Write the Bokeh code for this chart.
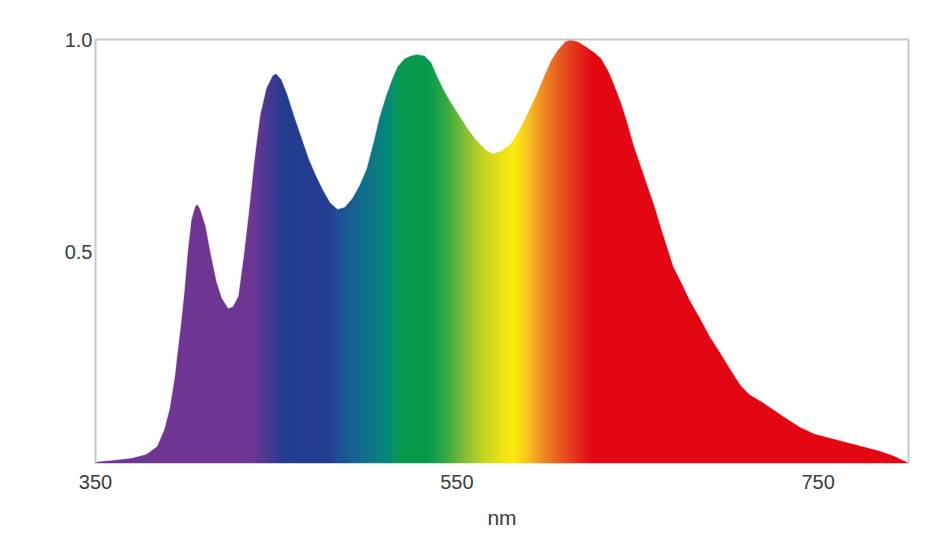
import numpy as np
from bokeh.plotting import figure
from bokeh.models import Range1d, FixedTicker, LinearAxis, NumeralTickFormatter
from bokeh.embed import file_html
from bokeh.resources import INLINE

# spectrum (wavelength in nm, relative intensity)
wavelength = [350, 360, 370, 378, 384, 388, 391, 394, 395, 397, 399, 401, 403, 405, 406.3, 408,
              411, 413.6, 417, 420, 423.5, 426, 429, 432, 435, 438, 441, 444.5, 448, 450, 453,
              456, 460, 464, 468, 472, 476, 480, 484, 488, 492, 496, 500, 504, 507, 510.5,
              514, 517, 521, 524.5, 528, 532, 536, 539, 543, 547, 552, 556, 561, 566, 570,
              575, 580, 585, 589, 594, 598, 602, 606, 610, 613, 617, 622, 626, 630, 634,
              637, 641, 644, 648, 652, 656, 659, 663, 666.5, 670, 674, 679, 685, 690, 696,
              701, 707, 712, 718, 725, 733, 740, 748, 757, 766, 775, 784, 792, 800]
intensity = [0.004, 0.008, 0.013, 0.022, 0.04, 0.08, 0.13, 0.21, 0.25, 0.32, 0.40, 0.50, 0.575, 0.605, 0.612, 0.60,
             0.56, 0.50, 0.43, 0.39, 0.366, 0.37, 0.395, 0.49, 0.60, 0.72, 0.82, 0.885, 0.915, 0.92, 0.905,
             0.873, 0.82, 0.77, 0.72, 0.68, 0.645, 0.615, 0.60, 0.605, 0.625, 0.655, 0.695, 0.76, 0.815, 0.864,
             0.905, 0.935, 0.955, 0.962, 0.965, 0.962, 0.945, 0.915, 0.88, 0.85, 0.817, 0.79, 0.762, 0.74, 0.731,
             0.738, 0.755, 0.79, 0.825, 0.87, 0.911, 0.95, 0.976, 0.995, 1.0, 0.995, 0.982, 0.97, 0.955, 0.925,
             0.895, 0.85, 0.81, 0.75, 0.70, 0.65, 0.613, 0.557, 0.51, 0.463, 0.43, 0.385, 0.34, 0.30, 0.26,
             0.225, 0.185, 0.163, 0.148, 0.128, 0.105, 0.086, 0.07, 0.06, 0.05, 0.04, 0.03, 0.018, 0.002]

# colour stops of the spectral fill
stop_nm = [350, 436, 454, 480, 484, 498, 512, 519, 534, 543, 556, 565, 576, 582, 591, 598, 607, 618, 626, 800]
stop_colors = ["#6F3592", "#6F3592", "#233C91", "#243E92", "#1E4E96", "#0F6E8C", "#07887A", "#06994C",
               "#06994C", "#2FA844", "#8EC232", "#C8D520", "#F0E314", "#FCEB0F", "#F5B820", "#EE8A22",
               "#E85A1E", "#E3261B", "#E30613", "#E30613"]

x_ticks = [350, 550, 750]
y_ticks = [0.5, 1.0]

X0, X1 = 350, 800
LABEL_COLOR = "#3c3c3c"
FRAME_COLOR = "#c8c8c8"
FONT = "Liberation Sans"

p = figure(frame_width=813, frame_height=424, output_backend="svg", toolbar_location=None,
           x_range=Range1d(X0, X1), y_range=Range1d(0, 1.0),
           min_border_left=95, min_border_top=39, min_border_right=30, min_border_bottom=63)
p.outline_line_color = None
p.grid.visible = False
p.background_fill_color = "white"
p.border_fill_color = "white"

# gradient image spanning the frame
N = 1800
cols = np.linspace(X0, X1, N)
rgb = np.array([[int(c[i:i + 2], 16) for i in (1, 3, 5)] for c in stop_colors], dtype=float)
img = np.zeros((1, N), dtype=np.uint32)
view = img.view(dtype=np.uint8).reshape((1, N, 4))
for k in range(3):
    view[0, :, k] = np.round(np.interp(cols, stop_nm, rgb[:, k])).astype(np.uint8)
view[0, :, 3] = 255
p.image_rgba(image=[img], x=X0, y=0, dw=X1 - X0, dh=1.0)

# white mask above the spectrum curve
mask_x = list(wavelength) + [X1, X0]
mask_y = list(intensity) + [1.2, 1.2]
p.patch(mask_x, mask_y, fill_color="white", line_color="white", line_width=0.5)

# axes
p.xaxis.ticker = FixedTicker(ticks=x_ticks)
p.yaxis.ticker = FixedTicker(ticks=y_ticks)
p.yaxis.formatter = NumeralTickFormatter(format="0.0")
for ax in (p.xaxis[0], p.yaxis[0]):
    ax.major_tick_line_color = None
    ax.minor_tick_line_color = None
    ax.major_tick_out = 0
    ax.major_tick_in = 0
    ax.major_label_text_font = FONT
    ax.major_label_text_font_size = "20px"
    ax.major_label_text_color = LABEL_COLOR
p.xaxis.axis_line_color = None
p.xaxis.major_label_standoff = 11
p.xaxis.axis_label = "nm"
p.xaxis.axis_label_text_font = FONT
p.xaxis.axis_label_text_font_size = "21px"
p.xaxis.axis_label_text_font_style = "normal"
p.xaxis.axis_label_text_color = LABEL_COLOR
p.xaxis.axis_label_standoff = 14
p.yaxis.axis_line_color = FRAME_COLOR
p.yaxis.axis_line_width = 2
p.yaxis.major_label_standoff = 3

for loc in ("above", "right"):
    ax = LinearAxis(ticker=FixedTicker(ticks=[]), axis_line_color=FRAME_COLOR, axis_line_width=2,
                    major_tick_line_color=None, minor_tick_line_color=None,
                    major_label_text_font_size="0px")
    p.add_layout(ax, loc)

open("out.html", "w").write(file_html(p, INLINE))
